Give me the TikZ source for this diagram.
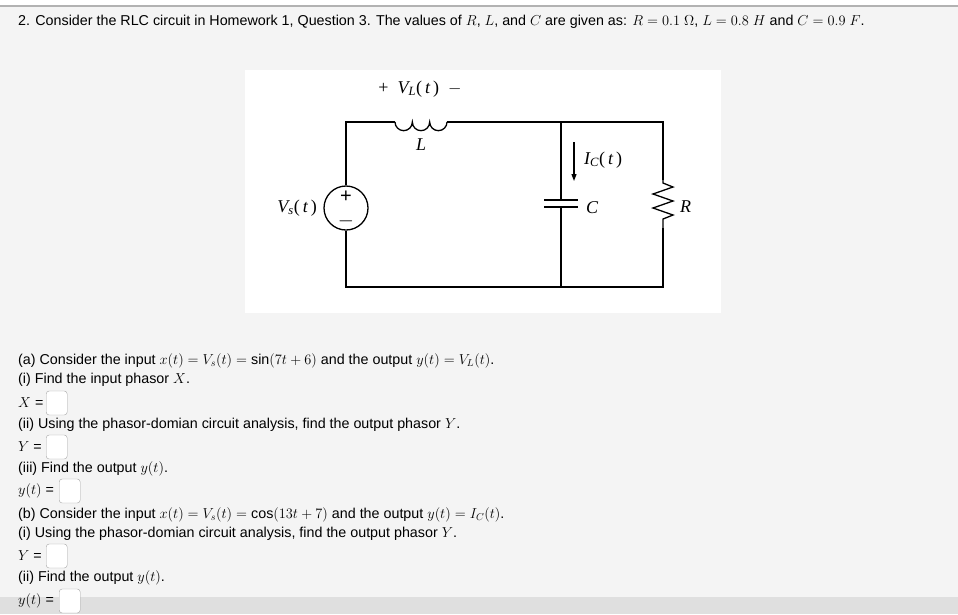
\documentclass[tikz,border=0pt]{standalone}
\usepackage{fontspec}
\setmainfont{Liberation Sans}
\newfontfamily\cfont{Liberation Serif}
\usetikzlibrary{decorations.pathmorphing,arrows.meta}
\definecolor{bg}{HTML}{F4F4F4}
\tikzset{
 wire/.style={line width=1.3pt,black},
 txt/.style={anchor=west,inner sep=0pt,font=\fontsize{14.3}{15}\selectfont},
 lbl/.style={inner sep=0pt,font=\cfont\itshape\fontsize{18}{20}\selectfont},
 ansbox/.style={draw=gray!70,rounded corners=3pt,minimum width=21pt,minimum height=24pt,anchor=west,inner sep=0pt,fill=white}
}
\newcommand{\tpar}[1]{\upshape(\,\itshape #1\,\upshape)}
\begin{document}
\begin{tikzpicture}[x=1pt,y=-1pt]
\useasboundingbox (0,0) rectangle (958,614);
\fill[bg] (0,0) rectangle (958,614);
\fill[white] (0,0) rectangle (958,5);
\draw[gray!60,line width=1.5pt] (0,6) -- (958,6);
\fill[gray!25] (0,597) rectangle (958,614);
\fill[white] (245,70) rectangle (721,313);
% circuit
\coordinate (tl) at (346,122); \coordinate (bl) at (346,287);
\coordinate (tc) at (561,122); \coordinate (bc) at (561,287);
\coordinate (tr) at (663,122); \coordinate (br) at (663,287);
\coordinate (l1) at (395,122); \coordinate (l2) at (447,122);
\coordinate (c1) at (561,200); \coordinate (c2) at (561,207);
\coordinate (r1) at (663,180); \coordinate (r2) at (663,228);
\node[circle,draw,line width=1.3pt,minimum size=44pt,inner sep=0pt] (src) at (346,208) {};
\node[font=\fontsize{20}{20}\selectfont,inner sep=0pt] (sp) at (346,197) {+};
\node[font=\fontsize{20}{20}\selectfont,inner sep=0pt] (sm) at (346,221) {$-$};
\draw[wire] (src.north) -- (tl) -- (l1);
\draw[wire] (l1) arc[start angle=180,end angle=0,radius=8.67] arc[start angle=180,end angle=0,radius=8.67] arc[start angle=180,end angle=0,radius=8.67];
\draw[wire] (l2) -- (tr) -- (r1);
\draw[wire] (r1) -- ++(0,3) -- ++(10,4) -- ++(-20,7) -- ++(20,7) -- ++(-20,7) -- ++(20,7) -- ++(-10,4) -- (r2);
\draw[wire] (r2) -- (br) -- (bl) -- (src.south);
\draw[wire] (tc) -- (c1); \draw[wire] (c2) -- (bc);
\draw[wire] (544,200) -- (578,200); \draw[wire] (544,207) -- (578,207);
\coordinate (a1) at (574,142); \coordinate (a2) at (574,181);
\draw[line width=1.2pt,-{Triangle[length=7pt,width=5pt]}] (a1) -- (a2);
\node[lbl] (vl) at (420,89) {\upshape +\ \ \itshape V\textsubscript{L}\tpar{t}\ \ \upshape$-$};
\node[lbl] (L) at (421,145) {L};
\node[lbl,anchor=west] (ic) at (584,160) {I\textsubscript{C}\tpar{t}};
\node[lbl,anchor=west] (C) at (586,208) {C};
\node[lbl,anchor=west] (R) at (680,207) {R};
\node[lbl,anchor=east] (vs) at (317,208) {V\textsubscript{s}\tpar{t}};
% text
\node[txt] (t0) at (18,22) {2. Consider the RLC circuit in Homework 1, Question 3. The values of $R$, $L$, and $C$ are given as: $R=0.1\ \Omega$, $L=0.8\ H$ and $C=0.9\ F$.};
\node[txt] (a) at (18,361) {(a) Consider the input $x(t)=V_s(t)=\sin(7t+6)$ and the output $y(t)=V_L(t)$.};
\node[txt] (ai) at (18,380) {(i) Find the input phasor $X$.};
\node[txt] (ax) at (18,403) {$X$ =}; \node[ansbox] (bx) at (46,403) {};
\node[txt] (aii) at (18,425) {(ii) Using the phasor-domian circuit analysis, find the output phasor $Y$.};
\node[txt] (ay) at (18,447) {$Y$ =}; \node[ansbox] (by) at (46,447) {};
\node[txt] (aiii) at (18,469) {(iii) Find the output $y(t)$.};
\node[txt] (ayt) at (18,491) {$y(t)$ =}; \node[ansbox] (byt) at (59,491) {};
\node[txt] (b) at (18,515) {(b) Consider the input $x(t)=V_s(t)=\cos(13t+7)$ and the output $y(t)=I_C(t)$.};
\node[txt] (bi) at (18,534) {(i) Using the phasor-domian circuit analysis, find the output phasor $Y$.};
\node[txt] (by2) at (18,556) {$Y$ =}; \node[ansbox] (bby) at (46,556) {};
\node[txt] (bii) at (18,578) {(ii) Find the output $y(t)$.};
\node[txt] (byt2) at (18,601) {$y(t)$ =}; \node[ansbox] (bbyt) at (59,601) {};
\end{tikzpicture}
\end{document}
